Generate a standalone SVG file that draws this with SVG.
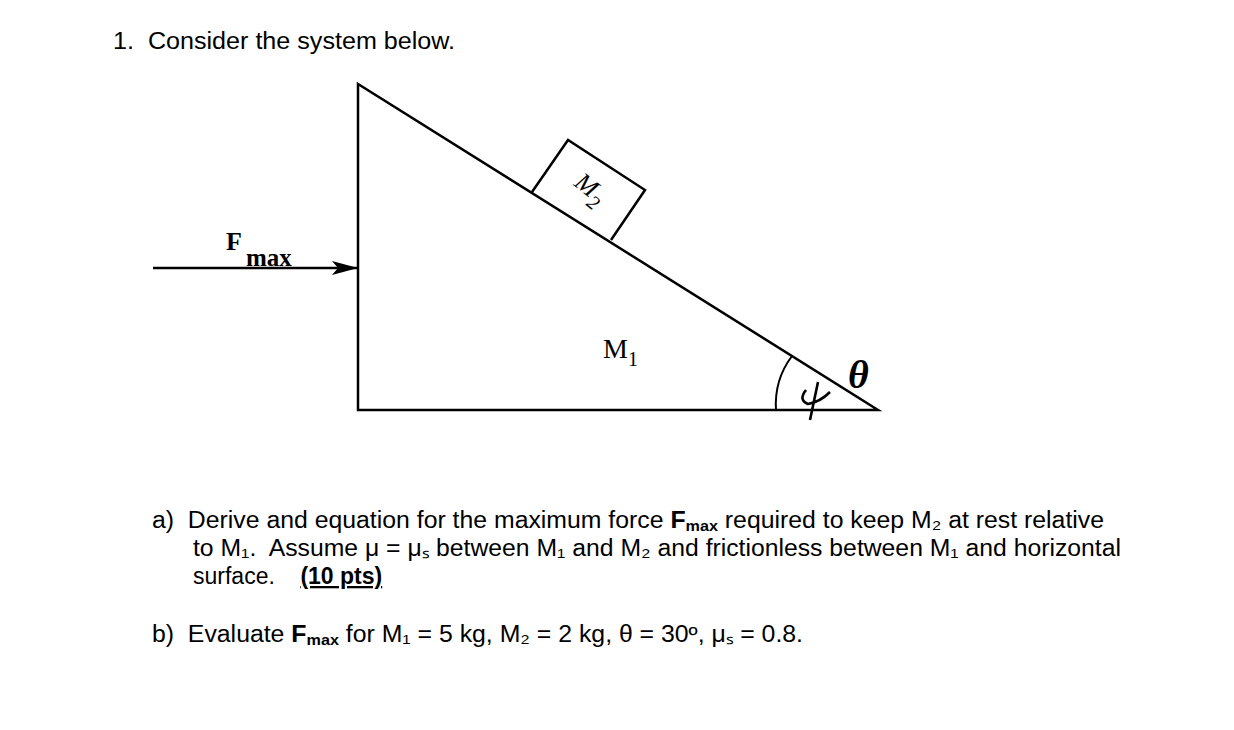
<svg xmlns="http://www.w3.org/2000/svg" width="1234" height="730" viewBox="0 0 1234 730">
<style>
.t{font-family:"Liberation Sans",Arial,sans-serif;font-size:23px;fill:#000;white-space:pre}
.s{font-family:"Liberation Serif","Times New Roman",serif;fill:#000}
.ln{stroke:#000;stroke-width:2.5;fill:none}
</style>
<defs><marker id="ah" markerWidth="26" markerHeight="14" refX="25" refY="7" orient="auto" markerUnits="userSpaceOnUse"><path d="M0,0 L26,7 L0,14 L6,7 Z" fill="#000"/></marker></defs>
<rect width="1234" height="730" fill="#fff"/>
<text class="t" x="113" y="49" textLength="342" lengthAdjust="spacingAndGlyphs">1.  Consider the system below.</text>
<g id="M1"><path class="ln" d="M358,84 L358,410 L878,410 Z"/>
<text class="s" x="603" y="358" font-size="28">M<tspan font-size="20" dy="8">1</tspan></text></g>
<g id="M2"><path class="ln" d="M532,192 L568,140 L645,190 L611,240"/>
<text class="s" font-size="26" font-style="italic" transform="translate(573,185) rotate(38)">M<tspan font-size="20" dy="8">2</tspan></text></g>
<g id="connectors"><line class="ln" x1="153" y1="268" x2="357" y2="268" marker-end="url(#ah)"/></g>
<text class="s" x="226" y="250" font-size="26" font-weight="bold">F</text><text class="s" x="246" y="266" font-size="25" font-weight="bold">max</text>
<g id="angle"><path d="M792,356 Q774,380 776,410" stroke="#000" stroke-width="2" fill="none"/>
<path d="M806,390 Q798,400 808,404 Q820,402 830,392 M818,382 L810,420" stroke="#000" stroke-width="2.6" fill="none"/>
<text class="s" x="848" y="388" font-size="40" font-style="italic" font-weight="bold">θ</text></g>
<text class="t" x="152" y="528" textLength="952" lengthAdjust="spacingAndGlyphs">a)  Derive and equation for the maximum force <tspan font-weight="bold">F<tspan font-size="15" dy="3">max</tspan></tspan><tspan dy="-3"> required to keep M₂ at rest relative</tspan></text>
<text class="t" x="193" y="556" textLength="928" lengthAdjust="spacingAndGlyphs">to M₁.  Assume μ = μₛ between M₁ and M₂ and frictionless between M₁ and horizontal</text>
<text class="t" x="193" y="584">surface.    <tspan font-weight="bold" text-decoration="underline">(10 pts)</tspan></text>
<text class="t" x="152" y="642" textLength="651" lengthAdjust="spacingAndGlyphs">b)  Evaluate <tspan font-weight="bold">F<tspan font-size="15" dy="3">max</tspan></tspan><tspan dy="-3"> for M₁ = 5 kg, M₂ = 2 kg, θ = 30º, μₛ = 0.8.</tspan></text>
</svg>
